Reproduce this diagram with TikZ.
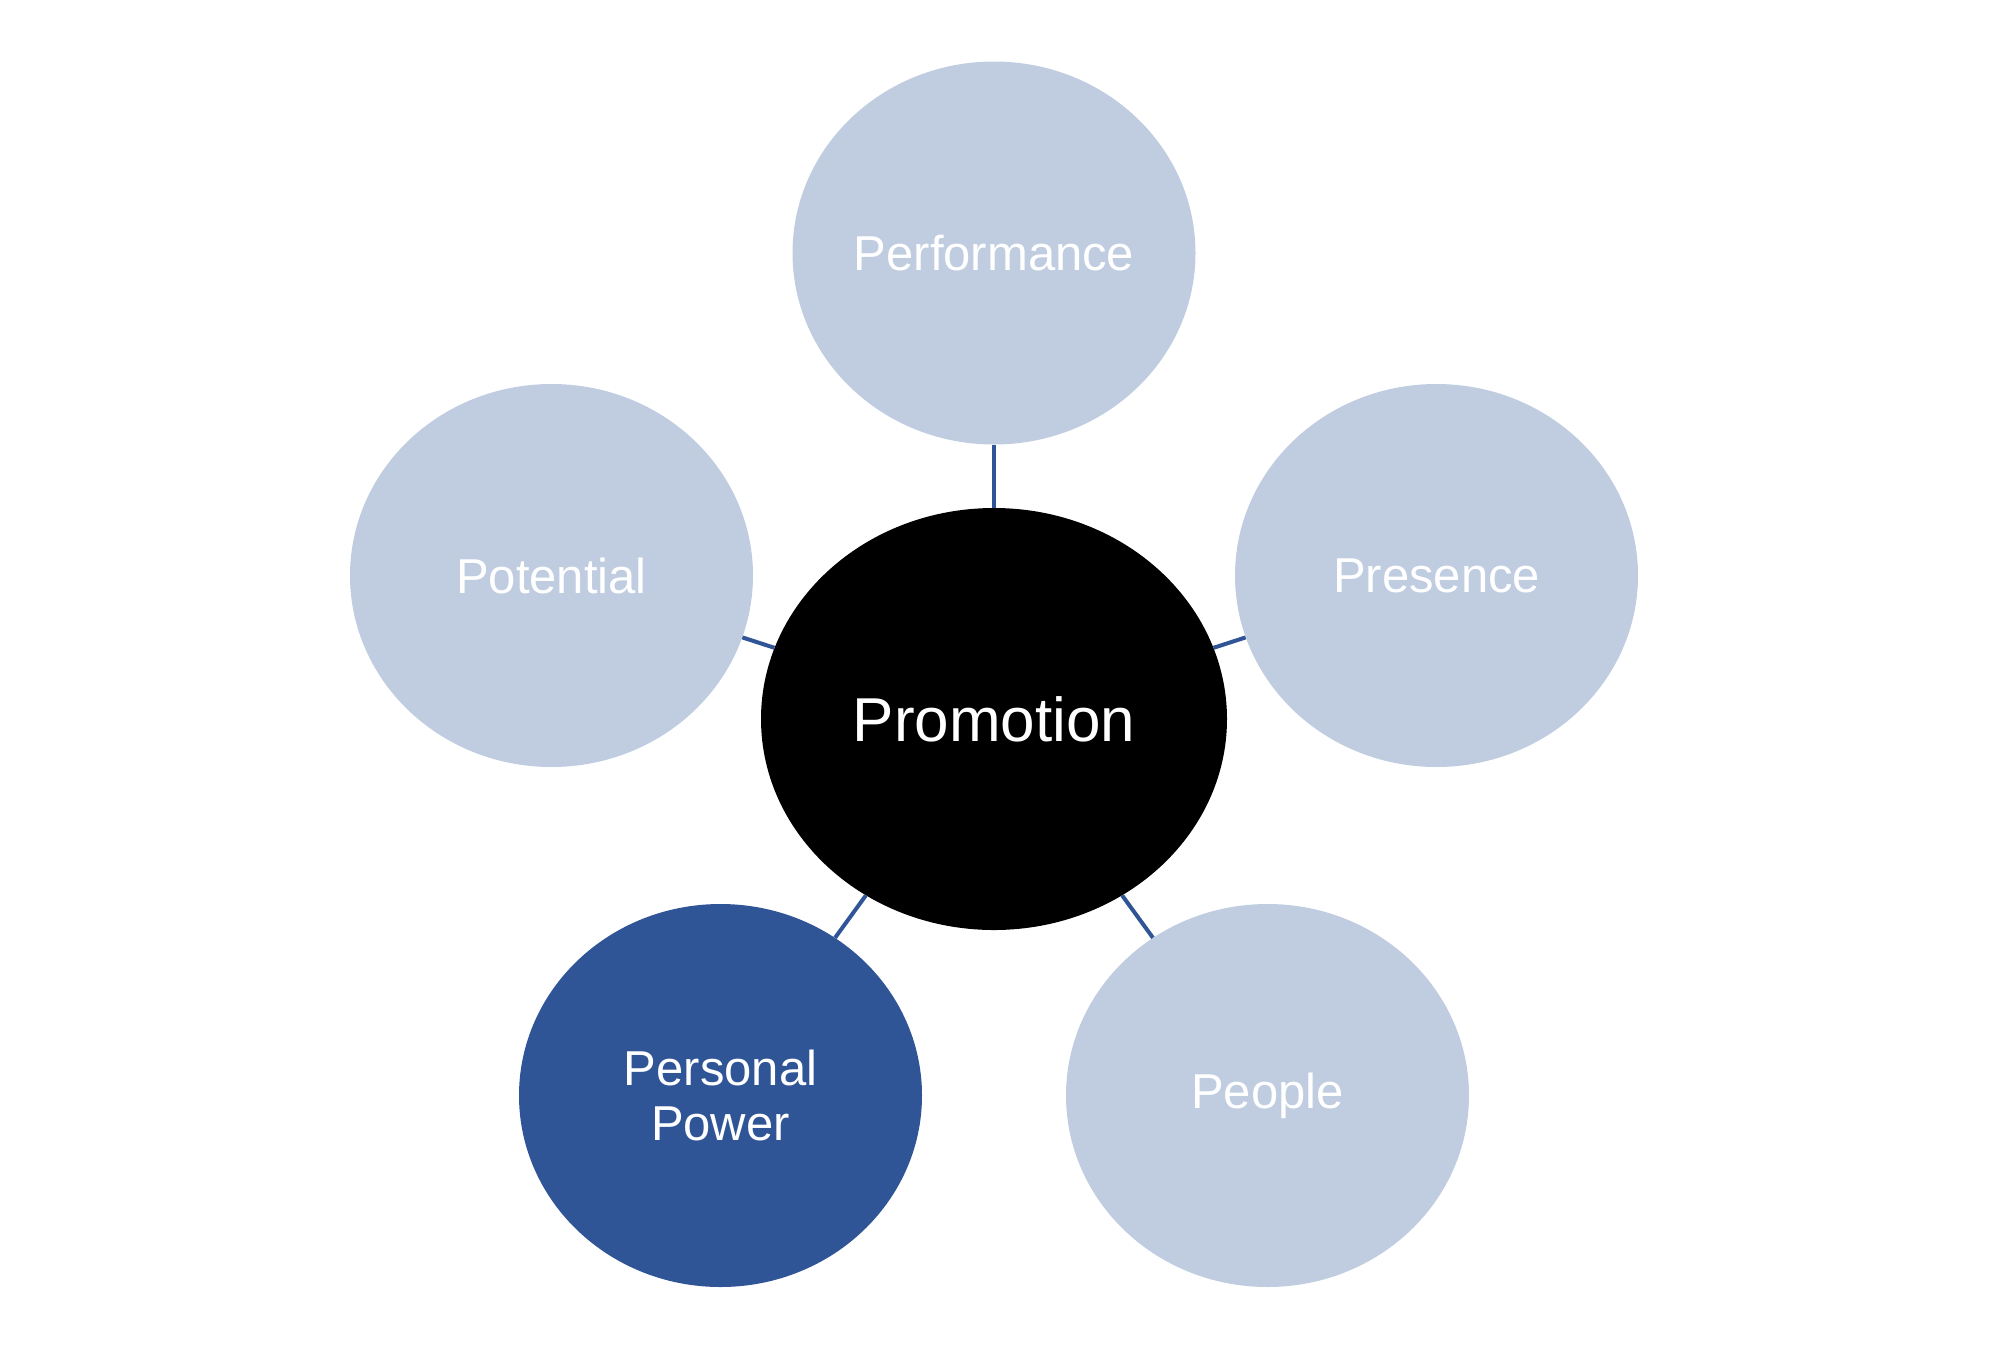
\documentclass[tikz,border=0pt]{standalone}
\usepackage{fontspec}
\setmainfont{Liberation Sans}
\usetikzlibrary{shapes.geometric}
\definecolor{lightblue}{HTML}{C0CDE1}
\definecolor{darkblue}{HTML}{2F5597}
\begin{document}
\begin{tikzpicture}[x=1pt,y=-1pt,
  outer/.style={ellipse, draw=none, fill=lightblue, minimum width=403pt, minimum height=383pt, inner sep=0pt, text=white, font=\fontsize{49}{55}\selectfont, align=center},
  centre/.style={ellipse, draw=none, fill=black, minimum width=466pt, minimum height=422pt, inner sep=0pt, text=white, font=\fontsize{62}{70}\selectfont},
  link/.style={draw=darkblue, line width=4pt}]
\useasboundingbox (0,0) rectangle (1989,1361);
\node[centre] (c) at (994,719) {Promotion};
\node[outer] (perf) at (994,253) {Performance};
\node[outer] (pot) at (551.5,575.5) {Potential};
\node[outer] (pres) at (1436.5,575.5) {Presence};
\node[outer, fill=darkblue] (pp) at (720.5,1095.5) {Personal\\Power};
\node[outer] (peo) at (1267.5,1095.5) {People};
\draw[link] (c) -- (perf);
\draw[link] (c) -- (pot);
\draw[link] (c) -- (pres);
\draw[link] (c) -- (pp);
\draw[link] (c) -- (peo);
\end{tikzpicture}
\end{document}
